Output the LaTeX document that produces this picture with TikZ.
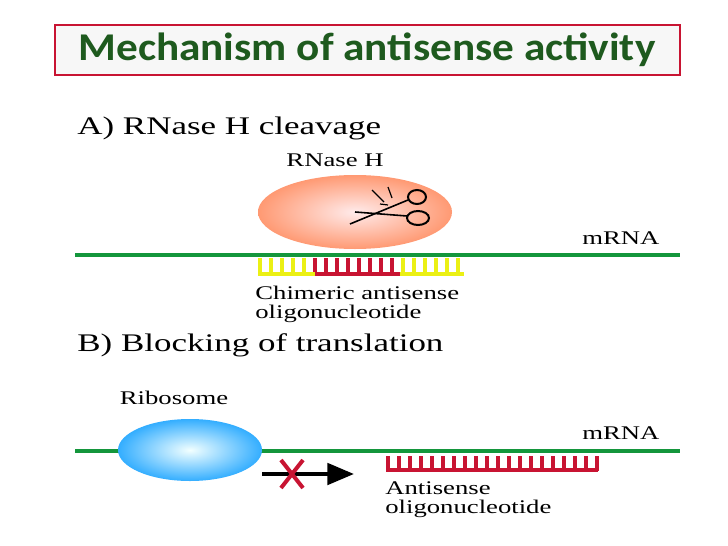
\documentclass[tikz,border=0pt]{standalone}
\usepackage{fontspec}
\setmainfont{Liberation Serif}
\newfontfamily\titlefont{Carlito}
\usetikzlibrary{arrows.meta}
\definecolor{mgreen}{RGB}{20,150,60}
\definecolor{tgreen}{RGB}{30,90,30}
\definecolor{lred}{RGB}{200,20,50}
\definecolor{lyel}{RGB}{235,240,20}
\tikzset{lbl/.style={anchor=west,inner sep=0pt,font=\fontsize{14.5}{14.5}\selectfont,xscale=1.38},
 head/.style={anchor=west,inner sep=0pt,font=\fontsize{19}{19}\selectfont,xscale=1.38},
 rna/.style={mgreen,line width=2.6pt},
 bar/.style={line width=3pt}}
\begin{document}
\begin{tikzpicture}[x=0.75pt,y=-0.75pt]
\useasboundingbox (0,0) rectangle (728,546);
\fill[white] (0,0) rectangle (728,546);
\node[draw=lred,line width=1pt,fill=gray!6,minimum width=625*0.75pt,minimum height=50*0.75pt,inner sep=0pt] (title) at (367.5,50) {};
\node[xscale=1.1] (tt) at (367,50) {\titlefont\bfseries\color{tgreen}\fontsize{29.5}{29.5}\selectfont Mechanism of antisense activity};
% A
\node[head] (ha) at (77,128) {A) RNase H cleavage};
\node[lbl,anchor=center] (rnh) at (335,160) {RNase H};
\shade[inner color=red!8,outer color=red!45!orange!55] (355,212) ellipse [x radius=97*0.75pt,y radius=37*0.75pt];
\node[minimum width=10pt] (rn) at (355,212) {};
% scissors
\draw[line width=1.5pt] (417,197) circle [x radius=9*0.75pt,y radius=7*0.75pt];
\draw[line width=1.5pt] (418,218) circle [x radius=11*0.75pt,y radius=7*0.75pt];
\draw[line width=1.2pt] (408,200) -- (350,224);
\draw[line width=1.2pt] (407,216) -- (355,212);
\draw[line width=0.9pt] (372,190)--(384,202) (388,187)--(392,198) (380,204)--(388,205);
\coordinate (a0) at (75,255); \coordinate (a1) at (680,255);
\draw[rna] (a0) -- (a1);
\node[lbl] (mA) at (582,238) {mRNA};
\foreach \x in {260,271,...,462} {
 \pgfmathsetmacro{\c}{(\x>312 && \x<402)?1:0}
 \ifdim\c pt>0.5pt \draw[lred,bar] (\x,258)--(\x,275); \else \draw[lyel,bar] (\x,258)--(\x,275); \fi}
\draw[lyel,bar] (258,274)--(315,274) (400,274)--(464,274);
\draw[lred,bar] (315,274)--(400,274);
\node[lbl] (ca) at (255,293) {Chimeric antisense};
\node[lbl] (cb) at (255,314) {oligonucleotide};
% B
\node[head] (hb) at (77,345) {B) Blocking of translation};
\node[lbl,anchor=center] (rib) at (174,398) {Ribosome};
\coordinate (b0) at (75,451); \coordinate (b1) at (680,451);
\draw[rna] (b0) -- (b1);
\shade[inner color=cyan!5,outer color=cyan!60!blue!80] (190,450) ellipse [x radius=72*0.75pt,y radius=31*0.75pt];
\node[lbl] (mB) at (582,433) {mRNA};
\coordinate (s) at (262,474); \coordinate (e) at (354,474);
\draw[line width=3pt,-{Triangle[length=20pt,width=16pt]}] (s) -- (e);
\draw[lred,line width=3pt] (281,460)--(303,488) (281,488)--(303,460);
\foreach \x in {388,399,...,597} \draw[lred,bar] (\x,456)--(\x,471);
\draw[lred,bar] (386,470)--(598,470);
\node[lbl] (aa) at (385,488) {Antisense};
\node[lbl] (ab) at (385,509) {oligonucleotide};
\end{tikzpicture}
\end{document}
